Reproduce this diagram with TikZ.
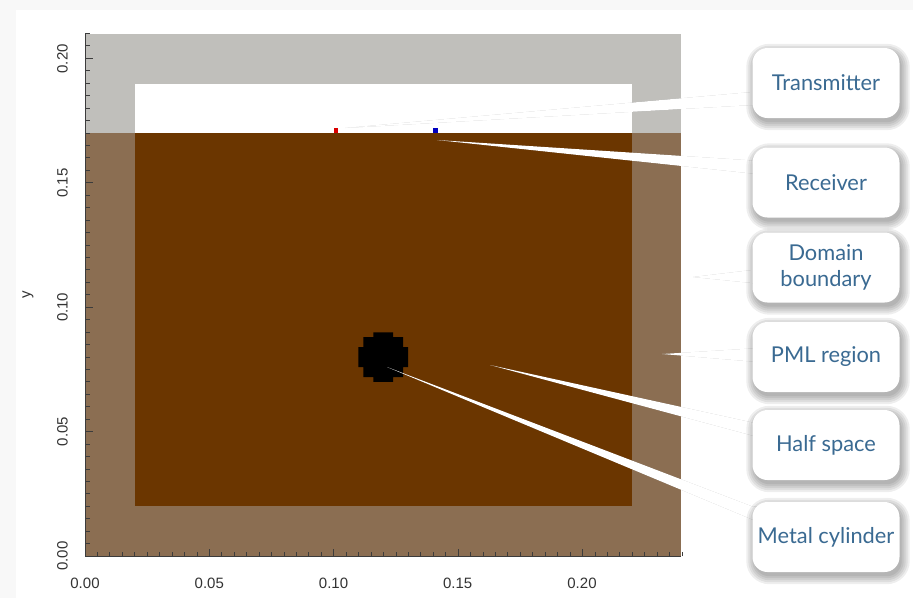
\documentclass[tikz,border=0pt]{standalone}
\usepackage{fontspec}
\setmainfont{Liberation Sans}
\newfontfamily\lato{Lato}
\usetikzlibrary{calc}
\definecolor{bgout}{RGB}{248,248,248}
\definecolor{pmlbrown}{RGB}{139,110,82}
\definecolor{soil}{RGB}{107,54,0}
\definecolor{airgray}{RGB}{192,191,187}
\definecolor{txtblue}{RGB}{58,106,146}
\definecolor{tickgray}{RGB}{60,60,60}
\begin{document}
\begin{tikzpicture}[x=1pt,y=-1pt,
  callout/.style={rectangle, rounded corners=15pt, fill=white,
    minimum width=147pt, minimum height=70pt, inner sep=2pt,
    text=txtblue, font=\lato\fontsize{21.8}{26}\selectfont, align=center},
  boxframe/.style={rectangle, minimum width=147pt, minimum height=70pt, inner sep=0pt},
  shadowlayer/.style={fill=black, opacity=0.065},
  wedgeshadow/.style={fill=black, opacity=0.13},
  wedge/.style={fill=white},
  ticklab/.style={font=\fontsize{15}{18}\selectfont, text=black!80, inner sep=0pt},
  tickline/.style={draw=tickgray, line width=0.8pt}]
\useasboundingbox (0,0) rectangle (913,598);
\fill[bgout] (0,0) rectangle (913,598);
\fill[white] (16,10) rectangle (913,598);

% ---- model domain ----
\begin{scope}[shift={(85,556)}, x=2485pt, y=2486pt]
  \fill[pmlbrown] (0,0) rectangle (0.24,0.21);
  \fill[airgray] (0,0.17) rectangle (0.24,0.21);
  \fill[white] (0.02,0.17) rectangle (0.22,0.19);
  \fill[soil] (0.02,0.02) rectangle (0.22,0.17);
  % metal cylinder (staircase disc)
  \fill[black, shift={(0.12,0.08)}, x=4.97pt, y=4.972pt]
    (-2,5) -- (2,5) -- (2,4) -- (4,4) -- (4,2) -- (5,2) -- (5,-2) -- (4,-2)
    -- (4,-4) -- (2,-4) -- (2,-5) -- (-2,-5) -- (-2,-4) -- (-4,-4) -- (-4,-2)
    -- (-5,-2) -- (-5,2) -- (-4,2) -- (-4,4) -- (-2,4) -- cycle;
  % transmitter and receiver
  \fill[red!85!black] (0.100,0.170) rectangle (0.102,0.172);
  \fill[blue!75!black] (0.140,0.170) rectangle (0.142,0.172);
  % axes
  \draw[tickgray, line width=0.8pt] (0,0.21) -- (0,0) -- (0.24,0);
  \foreach \i in {0,...,42}{
    \pgfmathsetmacro\t{\i*0.005}
    \ifnum\numexpr\i-(\i/10)*10\relax=0
      \draw[tickline] (0,\t) -- ++(8pt,0pt);
    \else
      \draw[tickline] (0,\t) -- ++(5pt,0pt);
    \fi
  }
  \foreach \i in {0,...,48}{
    \pgfmathsetmacro\t{\i*0.005}
    \ifnum\numexpr\i-(\i/10)*10\relax=0
      \draw[tickline] (\t,0) -- ++(0pt,7pt);
    \else
      \draw[tickline] (\t,0) -- ++(0pt,4pt);
    \fi
  }
  \foreach \v/\l in {0/0.00,0.05/0.05,0.10/0.10,0.15/0.15,0.20/0.20}{
    \node[ticklab] (xl\l) at ([yshift=-27pt]\v,0) {\l};
    \node[ticklab, rotate=90] (yl\l) at ([xshift=-22.5pt]0,\v) {\l};
  }
\end{scope}
\node[ticklab, rotate=90] (ylab) at (28,295) {y};

% ---- callout targets ----
\coordinate (tTx) at (345,128);
\coordinate (tRx) at (437,140);
\coordinate (tDom) at (693,277);
\coordinate (tPml) at (662,354);
\coordinate (tHalf) at (490,365);
\coordinate (tMetal) at (387,367);

% ---- callout helpers ----
\newcommand{\wedgepath}[3]{(#2) -- ($(#1.west)+(0,#3-6.5)$) -- ($(#1.west)+(30,#3-6.5)$)
    -- ($(#1.west)+(30,#3+6.5)$) -- ($(#1.west)+(0,#3+6.5)$) -- cycle}
\newcommand{\callwedge}[3]{% frame node, tip, offset of base centre
  \path[wedgeshadow, shift={(1.5,2.5)}] \wedgepath{#1}{#2}{#3};
  \path[wedgeshadow, shift={(3,5)}] \wedgepath{#1}{#2}{#3};
  \path[wedge] \wedgepath{#1}{#2}{#3};}
\newcommand{\boxshadow}[1]{%
  \foreach \e in {8,6,4,2,0}{
    \pgfmathsetmacro\rr{15+\e}
    \fill[shadowlayer, rounded corners=\rr pt]
      ($(#1.north west)+(2-\e,4-\e)$) rectangle ($(#1.south east)+(2+\e,4+\e)$);
  }}

\coordinate (cTx) at (826,83);
\coordinate (cRx) at (826,182.5);
\coordinate (cDom) at (826,267.5);
\coordinate (cPml) at (826,357);
\coordinate (cHalf) at (826,445);
\coordinate (cMetal) at (826,537);

\node[boxframe] (bTx) at (cTx) {};
\node[boxframe] (bRx) at (cRx) {};
\node[boxframe] (bDom) at (cDom) {};
\node[boxframe] (bPml) at (cPml) {};
\node[boxframe] (bHalf) at (cHalf) {};
\node[boxframe] (bMetal) at (cMetal) {};

\callwedge{bTx}{tTx}{15.5}
\callwedge{bRx}{tRx}{-15.5}
\callwedge{bDom}{tDom}{9}
\callwedge{bPml}{tPml}{-2}
\callwedge{bHalf}{tHalf}{-16}
\callwedge{bMetal}{tMetal}{-24}

\boxshadow{bTx}
\boxshadow{bRx}
\boxshadow{bDom}
\boxshadow{bPml}
\boxshadow{bHalf}
\boxshadow{bMetal}

\node[callout] (Tx) at (cTx) {Transmitter};
\node[callout] (Rx) at (cRx) {Receiver};
\node[callout] (Dom) at (cDom) {Domain\\boundary};
\node[callout] (Pml) at (cPml) {PML region};
\node[callout] (Half) at (cHalf) {Half space};
\node[callout] (Metal) at (cMetal) {Metal cylinder};
\end{tikzpicture}
\end{document}
